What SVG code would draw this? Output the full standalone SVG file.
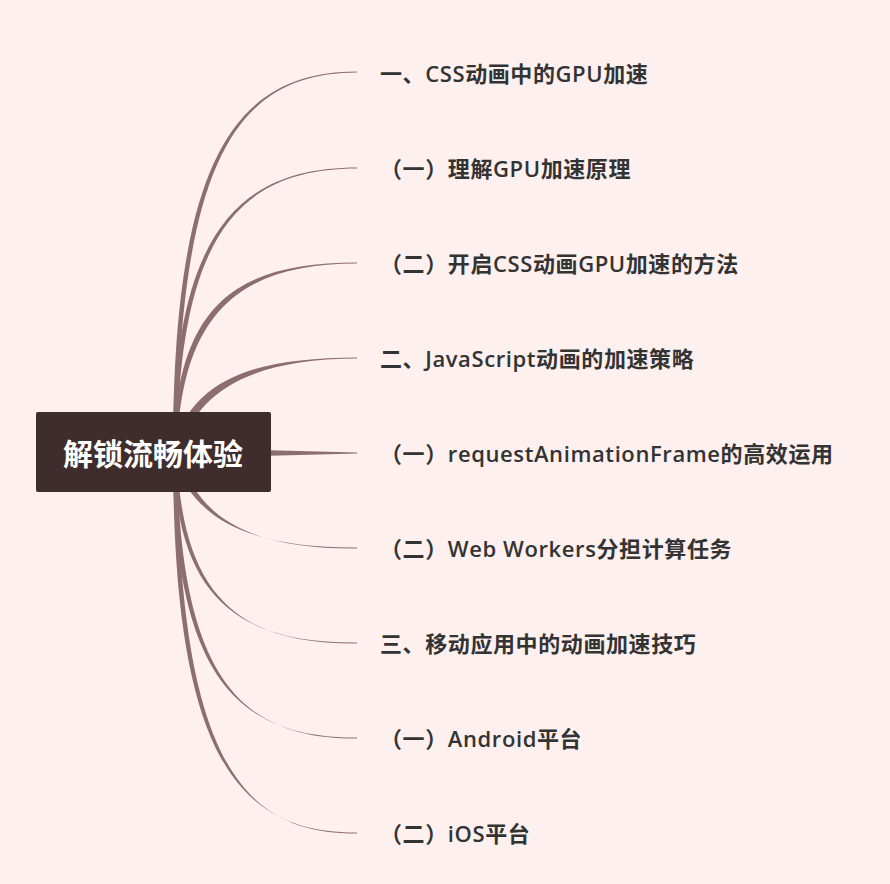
<svg xmlns="http://www.w3.org/2000/svg" width="890" height="884" viewBox="0 0 890 884">
<style>
.c{fill:#8d6e6e}
.t{font-family:"Open Sans","Noto Sans CJK SC",sans-serif;font-size:22px;font-weight:600;fill:#333;letter-spacing:0.6px}
</style>
<rect width="890" height="884" fill="#fdf0ef"/>
<g id="connectors">
<path class="c" d="M173,452 C173,150 240,72 357,71.5 L357,72.5 C242,73 179,150 177,452Z"/>
<path class="c" d="M173,452 C173,230 240,168 357,167.5 L357,168.5 C242,169 179,230 177,452Z"/>
<path class="c" d="M173,452 C176,300 240,263 357,262.5 L357,263.5 C242,264 181,310 177,452Z"/>
<path class="c" d="M172,452 C190,380 250,358 357,357.5 L357,358.5 C252,359 198,390 178,452Z"/>
<path class="c" d="M260,450 L357,452.5 L357,453.5 L260,456Z"/>
<path class="c" d="M172,452 C190,520 250,548 357,547.5 L357,548.5 C252,549 198,520 178,452Z"/>
<path class="c" d="M173,452 C176,600 240,643 357,642.5 L357,643.5 C242,644 181,600 177,452Z"/>
<path class="c" d="M173,452 C173,680 240,738 357,737.5 L357,738.5 C242,739 179,680 177,452Z"/>
<path class="c" d="M173,452 C173,760 240,833 357,832.5 L357,833.5 C242,834 179,760 177,452Z"/>
</g>
<g id="root">
<rect x="36" y="412" width="235" height="80" rx="2" fill="#3f2c2c"/>
<text x="153" y="465" text-anchor="middle" style="font-family:'Noto Sans CJK SC',sans-serif;font-size:30px;font-weight:700;fill:#fff">解锁流畅体验</text>
</g>
<g id="n1"><text class="t" x="380" y="82">一、CSS动画中的GPU加速</text></g>
<g id="n2"><text class="t" x="380" y="177">（一）理解GPU加速原理</text></g>
<g id="n3"><text class="t" x="380" y="272">（二）开启CSS动画GPU加速的方法</text></g>
<g id="n4"><text class="t" x="380" y="367">二、JavaScript动画的加速策略</text></g>
<g id="n5"><text class="t" x="380" y="462">（一）requestAnimationFrame的高效运用</text></g>
<g id="n6"><text class="t" x="380" y="557">（二）Web Workers分担计算任务</text></g>
<g id="n7"><text class="t" x="380" y="652">三、移动应用中的动画加速技巧</text></g>
<g id="n8"><text class="t" x="380" y="747">（一）Android平台</text></g>
<g id="n9"><text class="t" x="380" y="842">（二）iOS平台</text></g>
</svg>
